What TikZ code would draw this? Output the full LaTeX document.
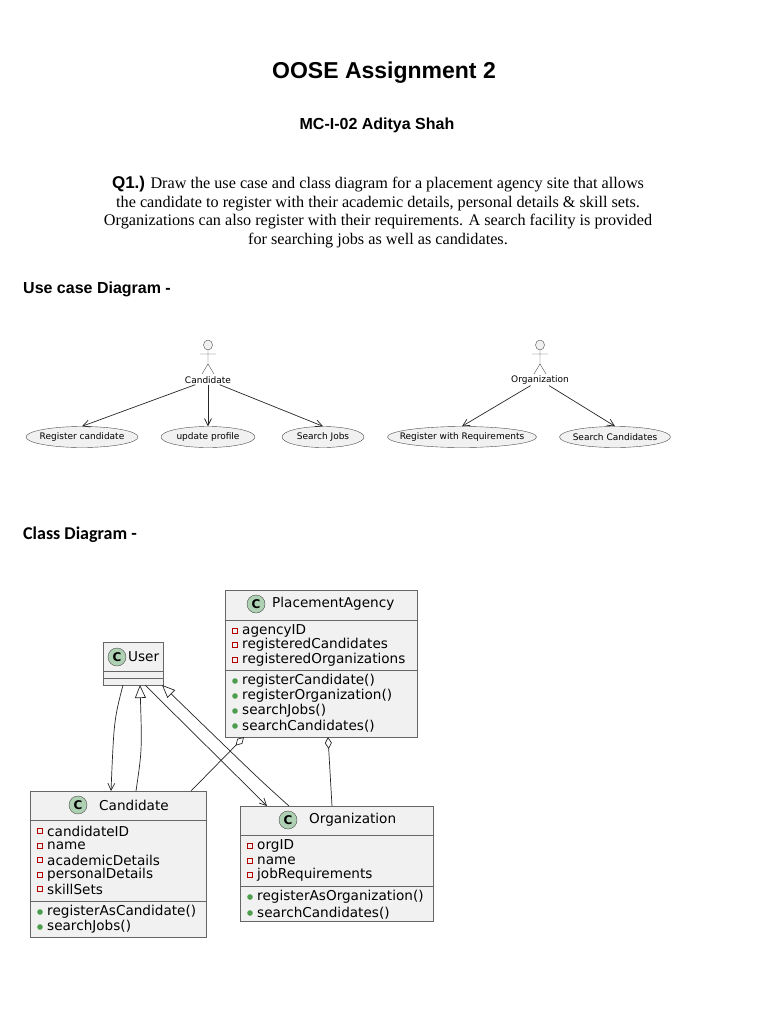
\documentclass[tikz,border=0pt]{standalone}
\usepackage{fontspec}
\setmainfont{Liberation Serif}
\newfontfamily\hv{Liberation Sans}
\newfontfamily\dv{DejaVu Sans}
\newfontfamily\cb{Carlito}
\usetikzlibrary{shapes.geometric,arrows.meta}
\definecolor{cbg}{HTML}{F1F1F1}
\definecolor{cgreen}{HTML}{ADD1B2}
\begin{document}
\begin{tikzpicture}[x=1pt,y=-1pt,
 uc/.style={ellipse,draw=black!70,fill=cbg,minimum height=21pt,inner ysep=0pt,inner xsep=-12pt,font=\dv\fontsize{9}{10}\selectfont},
 box/.style={draw=black!60,fill=cbg,line width=0.6pt},
 mem/.style={anchor=west,inner sep=0pt,font=\dv\fontsize{13.6}{15}\selectfont},
 cc/.style={circle,draw=black!70,fill=cgreen,minimum size=18pt,inner sep=0pt,font=\dv\bfseries\fontsize{12}{12}\selectfont},
 hd/.style={anchor=west,inner sep=0pt,font=\dv\fontsize{13.6}{15}\selectfont},
 ar/.style={-{Straight Barb[length=7pt,width=7pt]},black!85,line width=0.7pt},
 gen/.style={-{Triangle[open,length=13pt,width=11pt]},black!85,fill=none,line width=0.7pt},
 agg/.style={{Diamond[open,length=12pt,width=7pt]}-,black!85,line width=0.7pt}]
\useasboundingbox (0,0) rectangle (768,1024);
\fill[white] (0,0) rectangle (768,1024);
% header
\node (t) at (384,73) {\hv\bfseries\fontsize{23}{26}\selectfont OOSE Assignment 2};
\node (s) at (377,125) {\hv\bfseries\fontsize{16}{18}\selectfont MC-I-02 Aditya Shah};
\node[align=center,font=\fontsize{16.2}{18.5}\selectfont] (q) at (378,212) {{\hv\bfseries\fontsize{17}{18}\selectfont Q1.)} Draw the use case and class diagram for a placement agency site that allows\\ the candidate to register with their academic details, personal details \& skill sets.\\ Organizations can also register with their requirements. A search facility is provided\\ for searching jobs as well as candidates.};
\node[anchor=west,inner sep=0pt] (u) at (23,289) {\hv\bfseries\fontsize{16}{18}\selectfont Use case Diagram -};
\node[anchor=west,inner sep=0pt] (c) at (23,535) {\cb\bfseries\fontsize{18}{20}\selectfont Class Diagram -};
% actors
\foreach \n/\x/\lbl in {ca/208/Candidate,or/540/Organization}{
 \draw[black!70,fill=cbg] (\x,345) ellipse (4.5 and 5);
 \draw[black!70] (\x,350) -- (\x,364) (\x-8,354) -- (\x+8,354) (\x-6,374) -- (\x,364) -- (\x+6,374);
 \node[inner sep=1pt,font=\dv\fontsize{9}{10}\selectfont] (\n) at (\x,380) {\lbl};
}
\node[uc,minimum width=112pt] (rc) at (82,437) {Register candidate};
\node[uc,minimum width=94pt] (up) at (208,437) {update profile};
\node[uc,minimum width=82pt] (sj) at (323,437) {Search Jobs};
\node[uc,minimum width=149pt] (rr) at (462,437) {Register with Requirements};
\node[uc,minimum width=111pt] (sc) at (615,437) {Search Candidates};
\draw[ar] (ca) -- (rc.north);
\draw[ar] (ca) -- (up.north);
\draw[ar] (ca) -- (sj.north);
\draw[ar] (or) -- (rr.north);
\draw[ar] (or) -- (sc.north);
% classes
\draw[box] (225,590) rectangle (417,737);
\draw[black!60] (225,620) -- (417,620) (225,670) -- (417,670);
\node[cc] (pac) at (256,604) {C};
\node[hd] (pan) at (272,604) {PlacementAgency};
\draw[box] (103,642) rectangle (163,685);
\draw[black!60] (103,671) -- (163,671) (103,678) -- (163,678);
\node[cc] (uc) at (117,657) {C};
\node[hd] (un) at (128,657) {User};
\draw[box] (30,791) rectangle (206,937);
\draw[black!60] (30,820) -- (206,820) (30,901) -- (206,901);
\node[cc] (cac) at (78,805) {C};
\node[hd] (can) at (99,805) {Candidate};
\draw[box] (240,806) rectangle (433,921);
\draw[black!60] (240,835) -- (433,835) (240,886) -- (433,886);
\node[cc] (orc) at (288,820) {C};
\node[hd] (orn) at (309,820) {Organization};
% members
\newcommand\priv[3]{\draw[red!70!black,line width=0.5pt] (#1-2.7,#2-2.7) rectangle (#1+2.7,#2+2.7); \node[mem] at (#1+7,#2) {#3};}
\newcommand\publ[3]{\fill[green!45!black!70] (#1,#2) circle (2.8); \node[mem] at (#1+7,#2) {#3};}
\priv{235}{631}{agencyID}
\priv{235}{645}{registeredCandidates}
\priv{235}{660}{registeredOrganizations}
\publ{235}{681}{registerCandidate()}
\publ{235}{696}{registerOrganization()}
\publ{235}{711}{searchJobs()}
\publ{235}{726}{searchCandidates()}
\priv{40}{831}{candidateID}
\priv{40}{846}{name}
\priv{40}{860}{academicDetails}
\priv{40}{875}{personalDetails}
\priv{40}{889}{skillSets}
\publ{40}{912}{registerAsCandidate()}
\publ{40}{927}{searchJobs()}
\priv{250}{846}{orgID}
\priv{250}{861}{name}
\priv{250}{875}{jobRequirements}
\publ{250}{897}{registerAsOrganization()}
\publ{250}{913}{searchCandidates()}
% connectors
\coordinate (u1) at (123,685); \coordinate (c1) at (111,791);
\coordinate (c2) at (136,791); \coordinate (u2) at (140,685);
\coordinate (u3) at (145,685); \coordinate (o1) at (267,806);
\coordinate (o2) at (289,806); \coordinate (u4) at (162,685);
\coordinate (p1) at (244,737); \coordinate (c3) at (191,791);
\coordinate (p2) at (328,737); \coordinate (o3) at (332,806);
\draw[ar] (u1) .. controls (114,720) .. (c1);
\draw[gen] (c2) .. controls (142,750) .. (u2);
\draw[ar] (u3) -- (o1);
\draw[gen] (o2) .. controls (260,780) .. (u4);
\draw[agg] (p1) -- (c3);
\draw[agg] (p2) -- (o3);
\end{tikzpicture}
\end{document}
